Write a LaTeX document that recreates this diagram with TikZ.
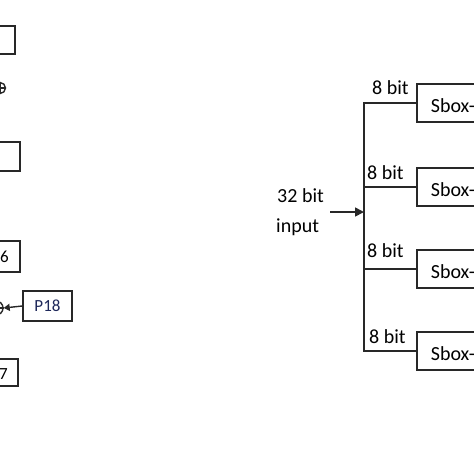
\documentclass[tikz,border=0pt]{standalone}
\usepackage{fontspec}
\setmainfont{Carlito}
\usetikzlibrary{arrows.meta}
\definecolor{navy}{RGB}{30,40,90}
\definecolor{ink}{RGB}{40,40,40}
\begin{document}
\begin{tikzpicture}[x=1pt,y=-1pt,
  box/.style={draw=ink, line width=1.7pt, fill=white, inner sep=0pt},
  sbox/.style={box, anchor=west, minimum height=38pt, text width=72pt, inner xsep=14pt, align=left, text height=19pt, text depth=0pt, font=\fontsize{20}{24}\selectfont},
  lbox/.style={box, anchor=north east, minimum width=60pt},
  lbl/.style={inner sep=0pt, anchor=base west, font=\fontsize{20}{24}\selectfont},
  small/.style={inner sep=0pt, anchor=base east, font=\fontsize{17}{20}\selectfont},
  xorc/.style={draw=ink, circle, line width=1.4pt, inner sep=0pt},
  wire/.style={line width=1.7pt, draw=ink},
  arr/.style={wire, -{Triangle[length=9pt,width=9pt]}},
  sarr/.style={wire, line width=1.4pt, -{Triangle[length=6pt,width=7pt]}}
]
\useasboundingbox (0,0) rectangle (474,474);
\clip (0,0) rectangle (474,474);

% ---- left fragments ----
\node[lbox, minimum height=28pt] (L1) at (15.5,25) {};
\node[xorc, minimum size=11pt] (x1) at (0,88) {};
\draw[ink, line width=1.3pt] (x1.north) -- (x1.south) (x1.west) -- (x1.east);

\node[lbox, minimum height=29pt] (L2) at (20.5,141) {};

\node[lbox, minimum height=31pt] (L3) at (21,240) {};
\node[small] (t6) at (9,262) {6};

\node[xorc, minimum size=14pt] (x2) at (-4,308) {};
\draw[ink, line width=1.3pt] (x2.north) -- (x2.south) (x2.west) -- (x2.east);
\node[box, minimum width=49pt, minimum height=30pt, font=\fontsize{17}{20}\selectfont, text=navy] (p18) at (47.5,306) {P18};
\draw[sarr] (p18.west) -- (x2.east);

\node[lbox, minimum height=27pt] (L4) at (19,358) {};
\node[small] (t7) at (8,379) {7};

% ---- right: 32 bit input split into four Sboxes ----
\node[lbl] (t32) at (277,202) {32 bit};
\node[lbl] (tin) at (276,232) {input};
\coordinate (src) at (330,212);
\coordinate (bus) at (364,212);

\node[sbox] (s1) at (416,103) {Sbox-};
\node[sbox] (s2) at (416,187) {Sbox-};
\node[sbox] (s3) at (416,269) {Sbox-};
\node[sbox] (s4) at (416,351) {Sbox-};

\draw[wire] (s1.west) -- (s1.west -| bus) -- (s4.west -| bus) -- (s4.west);
\draw[wire] (s2.west -| bus) -- (s2.west);
\draw[wire] (s3.west -| bus) -- (s3.west);
\draw[arr] (src) -- (bus);

\node[lbl] (l1) at (372,94) {8 bit};
\node[lbl] (l2) at (367,179) {8 bit};
\node[lbl] (l3) at (367,257) {8 bit};
\node[lbl] (l4) at (369,343) {8 bit};
\end{tikzpicture}
\end{document}
